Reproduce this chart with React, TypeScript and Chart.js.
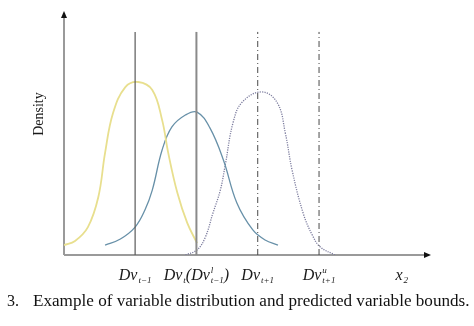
import { useEffect, useRef } from 'react';
import { Chart, registerables } from 'chart.js';

Chart.register(...registerables);

// Density curves (x in bound units, y in relative density)
const yellowX = [-0.16, 0.02, 0.23, 0.4, 0.51, 0.64, 0.84, 1.05, 1.28, 1.44, 1.54, 1.69, 1.85, 2.01];
const yellowY = [0.041, 0.058, 0.115, 0.239, 0.42, 0.584, 0.691, 0.712, 0.679, 0.556, 0.42, 0.255, 0.132, 0.049];

const blueX = [0.51, 0.76, 1.0, 1.16, 1.28, 1.44, 1.6, 1.82, 2.01, 2.22, 2.44, 2.66, 2.92, 3.12, 3.33];
const blueY = [0.041, 0.066, 0.115, 0.185, 0.267, 0.432, 0.527, 0.576, 0.588, 0.523, 0.391, 0.214, 0.103, 0.062, 0.041];

const purpleX = [1.82, 2.01, 2.14, 2.27, 2.39, 2.47, 2.6, 2.75, 3.07, 3.32, 3.45, 3.56, 3.74, 3.89, 4.02, 4.26];
const purpleY = [0, 0.021, 0.07, 0.173, 0.267, 0.37, 0.547, 0.63, 0.671, 0.626, 0.502, 0.35, 0.173, 0.082, 0.033, 0];

// Vertical bound lines
const boundX = [1, 2, 3, 4];
const boundTop = 0.918;

// Tick labels under the bounds: segments [text, kind] ; kind: n | sub | supsub
type Seg = [string, string, string?];
const boundLabels: Seg[][] = [
  [['Dv', 'n'], ['t−1', 'sub']],
  [['Dv', 'n'], ['t', 'sub'], ['(Dv', 'n'], ['l', 'supsub', 't−1'], [')', 'n']],
  [['Dv', 'n'], ['t+1', 'sub']],
  [['Dv', 'n'], ['u', 'supsub', 't+1']],
];
const xAxisLabel: Seg[] = [['x', 'n'], ['2', 'sub']];
const xAxisLabelPos = 5.35;
const yAxisTitle = 'Density';
const captionNum = '3.';
const captionText = 'Example of variable distribution and predicted variable bounds.';

const toPts = (xs: number[], ys: number[]) => xs.map((x, i) => ({ x, y: ys[i] }));

const SERIF = '"Liberation Serif", "Times New Roman", serif';

function segWidth(ctx: CanvasRenderingContext2D, segs: Seg[]) {
  let w = 0;
  for (const s of segs) {
    if (s[1] === 'n') {
      ctx.font = `italic 16px ${SERIF}`;
      w += ctx.measureText(s[0]).width;
    } else if (s[1] === 'sub') {
      ctx.font = `italic 9px ${SERIF}`;
      w += ctx.measureText(s[0]).width + 1;
    } else {
      ctx.font = `italic 9px ${SERIF}`;
      w += Math.max(ctx.measureText(s[0]).width, ctx.measureText(s[2] || '').width) + 1;
    }
  }
  return w;
}

function drawSegs(ctx: CanvasRenderingContext2D, segs: Seg[], cx: number, baseY: number) {
  const w = segWidth(ctx, segs);
  let x = cx - w / 2;
  ctx.textAlign = 'left';
  ctx.textBaseline = 'alphabetic';
  for (const s of segs) {
    if (s[1] === 'n') {
      ctx.font = `italic 16px ${SERIF}`;
      ctx.fillText(s[0], x, baseY);
      x += ctx.measureText(s[0]).width;
    } else if (s[1] === 'sub') {
      ctx.font = `italic 9px ${SERIF}`;
      ctx.fillText(s[0], x + 1, baseY + 3);
      x += ctx.measureText(s[0]).width + 1;
    } else {
      ctx.font = `italic 9px ${SERIF}`;
      ctx.fillText(s[0], x + 1, baseY - 7);
      ctx.fillText(s[2] || '', x + 1, baseY + 3);
      x += Math.max(ctx.measureText(s[0]).width, ctx.measureText(s[2] || '').width) + 1;
    }
  }
}

const decorPlugin = {
  id: 'decor',
  beforeDatasetsDraw(chart: any) {
    const { ctx, chartArea } = chart;
    const xs = chart.scales.x;
    const ys = chart.scales.y;
    const x0 = xs.getPixelForValue(xs.min);
    const y0 = ys.getPixelForValue(0);
    ctx.save();
    ctx.strokeStyle = '#9a9a9a';
    ctx.lineWidth = 2;
    ctx.beginPath();
    ctx.moveTo(x0, y0);
    ctx.lineTo(x0, chartArea.top + 4);
    ctx.moveTo(x0, y0);
    ctx.lineTo(chartArea.right - 4, y0);
    ctx.stroke();
    ctx.fillStyle = '#111';
    ctx.beginPath();
    ctx.moveTo(x0, chartArea.top - 1);
    ctx.lineTo(x0 - 3, chartArea.top + 6);
    ctx.lineTo(x0 + 3, chartArea.top + 6);
    ctx.closePath();
    ctx.fill();
    ctx.beginPath();
    ctx.moveTo(chartArea.right + 1, y0);
    ctx.lineTo(chartArea.right - 6, y0 - 3);
    ctx.lineTo(chartArea.right - 6, y0 + 3);
    ctx.closePath();
    ctx.fill();
    ctx.restore();
  },
  afterDraw(chart: any) {
    const { ctx } = chart;
    const xs = chart.scales.x;
    const ys = chart.scales.y;
    const y0 = ys.getPixelForValue(0);
    ctx.save();
    ctx.fillStyle = '#1a1a1a';
    boundLabels.forEach((segs, i) => {
      drawSegs(ctx, segs, xs.getPixelForValue(boundX[i]), y0 + 25);
    });
    drawSegs(ctx, xAxisLabel, xs.getPixelForValue(xAxisLabelPos), y0 + 25);

    // y axis title
    ctx.save();
    ctx.translate(39, ys.getPixelForValue(0.58));
    ctx.rotate(-Math.PI / 2);
    ctx.font = `14px ${SERIF}`;
    ctx.textAlign = 'center';
    ctx.textBaseline = 'middle';
    ctx.fillText(yAxisTitle, 0, 0);
    ctx.restore();

    // caption
    ctx.fillStyle = '#111';
    ctx.textAlign = 'left';
    ctx.textBaseline = 'alphabetic';
    ctx.font = `16px ${SERIF}`;
    ctx.fillText(captionNum, 7, 306);
    const target = 437;
    const w = ctx.measureText(captionText).width;
    const size = 16 * target / w;
    ctx.font = `${size.toFixed(2)}px ${SERIF}`;
    ctx.fillText(captionText, 33, 306);
    ctx.restore();
  },
};

export default function App() {
  const ref = useRef<HTMLCanvasElement | null>(null);
  useEffect(() => {
    if (!ref.current) return;
    const lineStyles = [
      { color: '#5a5a5a', width: 1.2, dash: [] as number[] },
      { color: '#8a8a8a', width: 2, dash: [] as number[] },
      { color: '#4a4a4a', width: 1, dash: [6, 3, 1, 3] },
      { color: '#4a4a4a', width: 1, dash: [6, 3, 1, 3] },
    ];
    const boundSets = boundX.map((bx, i) => ({
      data: [{ x: bx, y: 0 }, { x: bx, y: boundTop }],
      borderColor: lineStyles[i].color,
      borderWidth: lineStyles[i].width,
      borderDash: lineStyles[i].dash,
      pointRadius: 0,
      tension: 0,
    }));
    const chart = new Chart(ref.current, {
      type: 'line',
      data: {
        datasets: [
          ...boundSets,
          {
            data: toPts(yellowX, yellowY),
            borderColor: '#e8df8e',
            borderWidth: 1.8,
            pointRadius: 0,
            tension: 0.4,
          },
          {
            data: toPts(blueX, blueY),
            borderColor: '#6790a8',
            borderWidth: 1.3,
            pointRadius: 0,
            tension: 0.4,
          },
          {
            data: toPts(purpleX, purpleY),
            borderColor: '#7c7c9e',
            borderWidth: 1.3,
            borderDash: [1.2, 1.2],
            pointRadius: 0,
            tension: 0.4,
          },
        ] as any,
      },
      options: {
        animation: false,
        responsive: false,
        layout: { padding: { left: 64, right: 44, top: 12, bottom: 71 } },
        plugins: { legend: { display: false }, tooltip: { enabled: false } },
        scales: {
          x: { type: 'linear', min: -0.16, max: 5.81, display: false },
          y: { type: 'linear', min: 0, max: 1, display: false },
        },
      },
      plugins: [decorPlugin],
    });
    return () => chart.destroy();
  }, []);
  return (
    <div style={{ position: 'fixed', left: 0, top: 0, width: 474, height: 326, background: '#fff' }}>
      <canvas ref={ref} width={474} height={326} style={{ display: 'block' }} />
    </div>
  );
}
